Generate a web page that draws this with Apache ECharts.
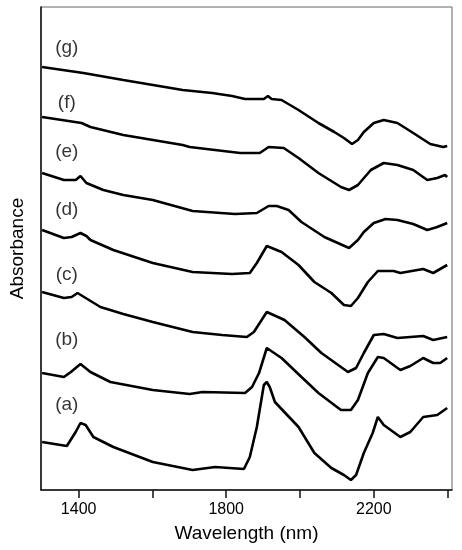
<!DOCTYPE html>
<html>
<head>
<meta charset="utf-8">
<title>NIR spectra</title>
<script src="https://cdn.jsdelivr.net/npm/echarts@6/dist/echarts.min.js"></script>
<style>
  html, body { margin: 0; padding: 0; background: #fff; }
  #chart { width: 462px; height: 550px; }
</style>
</head>
<body>
<div id="chart"></div>
<script>
// wavelength (nm), absorbance (offset, arbitrary units)
const specA = [[1301,0.48],[1368,0.44],[1392,0.58],[1405,0.67],[1419,0.65],[1440,0.53],[1494,0.43],[1601,0.28],[1709,0.20],[1770,0.23],[1848,0.21],[1864,0.33],[1883,0.63],[1902,1.05],[1910,1.08],[1918,1.03],[1932,0.88],[1996,0.63],[2039,0.37],[2085,0.22],[2119,0.15],[2138,0.10],[2152,0.15],[2173,0.37],[2197,0.57],[2211,0.73],[2227,0.65],[2272,0.53],[2299,0.58],[2334,0.73],[2372,0.75],[2399,0.82]];
const specB = [[1301,1.17],[1360,1.13],[1379,1.18],[1405,1.26],[1432,1.18],[1486,1.08],[1601,1.00],[1701,0.96],[1736,0.98],[1851,0.97],[1870,1.03],[1889,1.17],[1910,1.42],[1950,1.32],[2004,1.13],[2050,0.97],[2111,0.80],[2138,0.80],[2157,0.90],[2184,1.17],[2211,1.33],[2227,1.32],[2272,1.20],[2299,1.24],[2334,1.32],[2361,1.27],[2380,1.27],[2399,1.32]];
const specC = [[1301,1.98],[1360,1.92],[1381,1.93],[1397,1.97],[1459,1.83],[1521,1.76],[1601,1.68],[1709,1.58],[1789,1.55],[1856,1.53],[1875,1.58],[1910,1.78],[1958,1.70],[2012,1.53],[2058,1.37],[2111,1.23],[2130,1.18],[2152,1.22],[2173,1.37],[2200,1.55],[2227,1.56],[2264,1.52],[2334,1.54],[2361,1.50],[2399,1.53]];
const specD = [[1301,2.60],[1360,2.52],[1381,2.53],[1405,2.57],[1421,2.54],[1432,2.50],[1494,2.40],[1601,2.27],[1709,2.18],[1816,2.16],[1864,2.17],[1883,2.27],[1910,2.44],[1950,2.38],[1996,2.25],[2039,2.08],[2085,1.97],[2119,1.85],[2138,1.84],[2157,1.92],[2184,2.08],[2211,2.19],[2254,2.19],[2272,2.17],[2334,2.21],[2361,2.17],[2399,2.25]];
const specE = [[1301,3.17],[1360,3.10],[1392,3.10],[1405,3.14],[1421,3.07],[1467,3.00],[1521,2.95],[1601,2.90],[1709,2.79],[1824,2.76],[1883,2.77],[1915,2.84],[1937,2.84],[1969,2.80],[2004,2.68],[2066,2.53],[2133,2.42],[2157,2.50],[2173,2.58],[2200,2.67],[2232,2.71],[2264,2.70],[2307,2.66],[2345,2.60],[2372,2.63],[2399,2.67]];
const specF = [[1301,3.73],[1408,3.67],[1432,3.63],[1521,3.55],[1682,3.45],[1701,3.43],[1838,3.37],[1891,3.37],[1915,3.43],[1956,3.42],[1996,3.32],[2050,3.17],[2111,3.03],[2133,3.00],[2157,3.05],[2192,3.20],[2227,3.27],[2264,3.25],[2307,3.20],[2345,3.10],[2372,3.12],[2393,3.15],[2399,3.13]];
const specG = [[1301,4.23],[1413,4.17],[1521,4.10],[1682,4.00],[1762,3.97],[1816,3.94],[1851,3.91],[1902,3.91],[1913,3.94],[1923,3.91],[1950,3.90],[1996,3.80],[2050,3.67],[2093,3.58],[2119,3.52],[2141,3.46],[2157,3.50],[2173,3.58],[2200,3.67],[2227,3.70],[2264,3.67],[2307,3.57],[2353,3.46],[2388,3.43],[2399,3.44]];

const curveNames = ["(a)", "(b)", "(c)", "(d)", "(e)", "(f)", "(g)"];
const curves = [specA, specB, specC, specD, specE, specF, specG];
// where each curve tag sits: [wavelength, absorbance]
const tagPos = [[1368,0.85],[1368,1.50],[1368,2.15],[1368,2.80],[1368,3.38],[1368,3.87],[1368,4.42]];

const tickValues = [1400, 1600, 1800, 2000, 2200, 2400];
const labelValues = [1400, 1800, 2200];

const font = "'Liberation Sans', Arial, sans-serif";
const chart = echarts.init(document.getElementById("chart"));

const series = curves.map((d, i) => ({
  name: curveNames[i],
  type: "line",
  data: d,
  showSymbol: false,
  symbol: "none",
  lineStyle: { color: "#000", width: 2.6 },
  z: 3
}));

series.push({
  type: "scatter",
  data: tagPos.map((p, i) => [p[0], p[1], curveNames[i]]),
  symbolSize: 1,
  itemStyle: { color: "transparent" },
  label: {
    show: true,
    position: "inside",
    formatter: (p) => p.value[2],
    color: "#000",
    fontSize: 19,
    fontFamily: font
  },
  silent: true
});

const option = {
  animation: false,
  grid: {
    left: 37,
    right: 10,
    top: 7,
    bottom: 60,
    show: true,
    borderColor: "#666",
    borderWidth: 1
  },
  xAxis: {
    type: "value",
    min: 1298,
    max: 2412,
    name: "Wavelength (nm)",
    nameLocation: "middle",
    nameGap: 34,
    nameTextStyle: { fontSize: 19, color: "#000", fontFamily: font },
    axisLine: { lineStyle: { color: "#111", width: 1.5 } },
    axisTick: {
      show: true,
      length: 8,
      customValues: tickValues,
      lineStyle: { color: "#111", width: 1.5 }
    },
    axisLabel: {
      customValues: labelValues,
      formatter: (v) => String(v),
      margin: 12,
      fontSize: 16,
      color: "#000",
      fontFamily: font
    },
    splitLine: { show: false }
  },
  yAxis: {
    type: "value",
    min: 0,
    max: 4.83,
    name: "Absorbance",
    nameLocation: "middle",
    nameGap: 14,
    nameTextStyle: { fontSize: 19, color: "#000", fontFamily: font },
    axisLine: { show: true, lineStyle: { color: "#111", width: 1.5 } },
    axisTick: { show: false },
    axisLabel: { show: false },
    splitLine: { show: false }
  },
  series: series
};

chart.setOption(option);
</script>
</body>
</html>
